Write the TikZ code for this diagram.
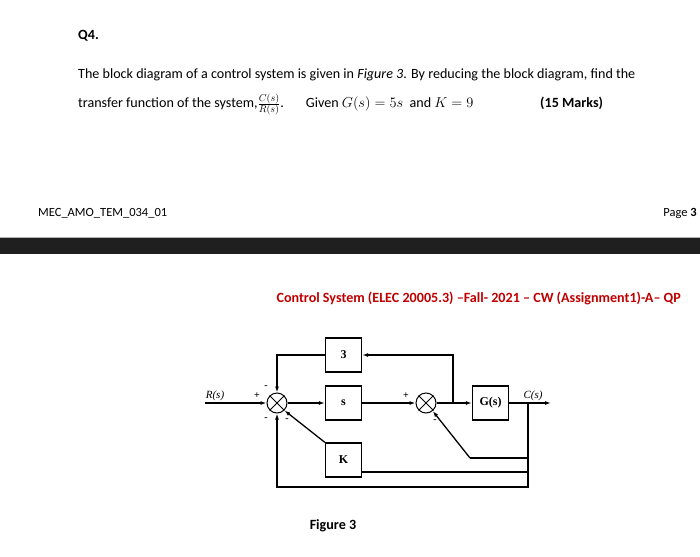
\documentclass[tikz,border=0pt]{standalone}
\usepackage{fontspec}
\setmainfont{Carlito}
\newfontfamily\tfont{Liberation Serif}
\usetikzlibrary{arrows.meta}
\definecolor{titlered}{RGB}{192,0,0}
\begin{document}
\begin{tikzpicture}[x=1pt,y=-1pt,
  blk/.style={draw,line width=1.3pt,minimum width=36pt,minimum height=34pt,inner sep=0pt,font=\tfont\bfseries\fontsize{12}{12}\selectfont},
  sumj/.style={draw,circle,line width=1pt,minimum size=20pt,inner sep=0pt},
  wire/.style={line width=1.3pt},
  arr/.style={wire,-{Latex[length=6pt,width=4pt]}},
  sg/.style={font=\tfont\bfseries\fontsize{10}{10}\selectfont,inner sep=0pt},
  lb/.style={font=\tfont\itshape\fontsize{11}{11}\selectfont,inner sep=0pt,anchor=base},
  txt/.style={inner sep=0pt,anchor=base west,font=\fontsize{14.1}{16}\selectfont}]
\useasboundingbox (0,0) rectangle (700,556);
\fill[white] (0,0) rectangle (700,556);
\node[txt,font=\bfseries\fontsize{14.1}{16}\selectfont] (q) at (78,40) {Q4.};
\node[txt] (l1) at (78,79) {The block diagram of a control system is given in \textit{Figure 3}. By reducing the block diagram, find the};
\node[txt] (l2) at (78,108) {transfer function of the system,$\frac{C(s)}{R(s)}$.\hspace{22pt}Given $G(s)=5s$ \ and $K=9$};
\node[txt,font=\bfseries\fontsize{14.1}{16}\selectfont] (mk) at (540,108) {(15 Marks)};
\node[txt,font=\fontsize{12.5}{14}\selectfont] (ft) at (38,216) {MEC\_AMO\_TEM\_034\_01};
\node[txt,font=\fontsize{12.5}{14}\selectfont,anchor=base east] (pg) at (697,216) {Page \textbf{3}};
\fill[black!88] (0,238) rectangle (700,254);
\draw[gray!60,line width=0.6pt] (0,237.5) -- (700,237.5);
\node[txt,font=\bfseries\fontsize{14.1}{16}\selectfont,text=titlered,anchor=base east] (ttl) at (681,302) {Control System (ELEC 20005.3) --Fall- 2021 -- CW (Assignment1)-A-- QP};
\node[txt,font=\bfseries\fontsize{14.1}{16}\selectfont,anchor=base] (fig) at (333,529) {Figure 3};
% diagram
\node[sumj] (s1) at (277,403) {};
\node[sumj] (s2) at (426,403) {};
\node[blk] (b3) at (343.5,355) {3};
\node[blk] (bs) at (343.5,403) {s};
\node[blk] (bk) at (343.5,460) {K};
\node[blk] (bg) at (490.5,403) {G(s)};
\draw[line width=0.9pt] (s1.45)--(s1.225) (s1.135)--(s1.315);
\draw[line width=0.9pt] (s2.45)--(s2.225) (s2.135)--(s2.315);
\coordinate (rin) at (205,403);
\coordinate (bp) at (453,403);
\coordinate (op) at (528,403);
\coordinate (oend) at (551,403);
\draw[arr] (rin) -- (s1);
\draw[arr] (s1) -- (bs);
\draw[arr] (bs) -- (s2);
\draw[arr] (s2) -- (bg);
\draw[arr] (bg) -- (oend);
\draw[arr] (bp) |- (b3);
\draw[arr] (b3) -| (s1);
\draw[wire] (op) |- (470,458) coordinate (c1);
\draw[arr] (c1) -- (s2.-50);
\draw[wire] (op) |- (bk.east |- 472,472);
\draw[arr] (bk.north west) -- (s1.-45);
\draw[arr] (op) |- (277,487) -- (s1);
\node[lb] (r) at (215,398) {R(s)};
\node[lb] (c) at (533,398) {C(s)};
\node[sg] (p1) at (257,396) {+};
\node[sg] (m1) at (266,387) {-};
\node[sg] (m2) at (266,419) {-};
\node[sg] (m3) at (287,420) {-};
\node[sg] (p2) at (406,396) {+};
\node[sg] (m4) at (435,421) {-};
\end{tikzpicture}
\end{document}
